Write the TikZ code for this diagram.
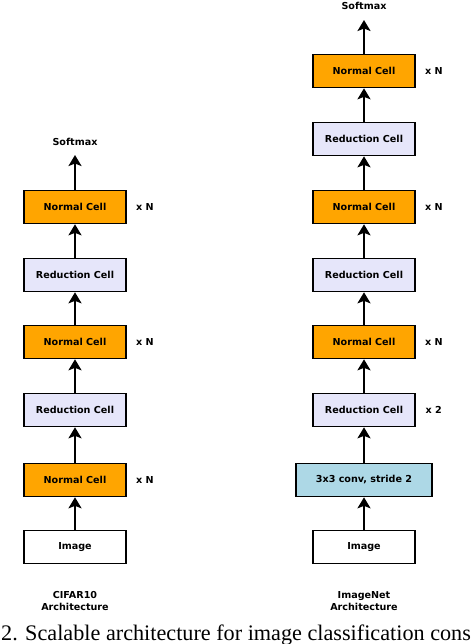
\documentclass[tikz,border=0pt]{standalone}
\usepackage{fontspec}
\setmainfont{Liberation Serif}
\newfontfamily\cellfont{DejaVu Sans}
\usetikzlibrary{arrows.meta}

\definecolor{normalorange}{HTML}{FFA500}
\definecolor{reductionlav}{HTML}{E6E6FA}
\definecolor{convblue}{HTML}{ADD8E6}

\begin{document}
\begin{tikzpicture}[x=1pt,y=-1pt,
  cell/.style={draw,line width=1.6pt,minimum width=102pt,minimum height=33pt,
    inner sep=0pt,font=\cellfont\bfseries\fontsize{9.6}{11}\selectfont},
  normalcell/.style={cell,fill=normalorange},
  reductioncell/.style={cell,fill=reductionlav},
  flow/.style={-{Stealth[length=11pt,width=13pt,inset=2.5pt]},line width=2.4pt},
  tag/.style={font=\cellfont\bfseries\fontsize{9.6}{12}\selectfont}]
\useasboundingbox (0,0) rectangle (474,644);

% CIFAR10 column
\node[cell,fill=white] (cimage) at (75,547) {Image};
\foreach \n/\y/\s/\t in {1/480/normalcell/Normal Cell,2/410/reductioncell/Reduction Cell,
  3/342/normalcell/Normal Cell,4/275/reductioncell/Reduction Cell,5/207/normalcell/Normal Cell}
  \node[\s] (c\n) at (75,\y) {\t};
\coordinate (csoft) at (75,155);
\node[tag] at (75,142) {Softmax};
\draw[flow] (cimage) -- (c1);
\draw[flow] (c1) -- (c2);
\draw[flow] (c2) -- (c3);
\draw[flow] (c3) -- (c4);
\draw[flow] (c4) -- (c5);
\draw[flow] (c5) -- (csoft);
\foreach \n in {1,3,5}
  \node[tag] at ([xshift=18pt]c\n.east) {x N};
\node[tag,align=center] (clabel) at (75,601) {CIFAR10\\Architecture};

% ImageNet column
\node[cell,fill=white] (iimage) at (364,547) {Image};
\node[cell,fill=convblue,minimum width=136pt] (iconv) at (364,480) {3x3 conv, stride 2};
\foreach \n/\y/\s/\t in {1/410/reductioncell/Reduction Cell,2/342/normalcell/Normal Cell,
  3/275/reductioncell/Reduction Cell,4/207/normalcell/Normal Cell,
  5/139/reductioncell/Reduction Cell,6/71/normalcell/Normal Cell}
  \node[\s] (i\n) at (364,\y) {\t};
\coordinate (isoft) at (364,20);
\node[tag] at (364,6) {Softmax};
\draw[flow] (iimage) -- (iconv);
\draw[flow] (iconv) -- (i1);
\draw[flow] (i1) -- (i2);
\draw[flow] (i2) -- (i3);
\draw[flow] (i3) -- (i4);
\draw[flow] (i4) -- (i5);
\draw[flow] (i5) -- (i6);
\draw[flow] (i6) -- (isoft);
\node[tag] at ([xshift=18pt]i1.east) {x 2};
\foreach \n in {2,4,6}
  \node[tag] at ([xshift=18pt]i\n.east) {x N};
\node[tag,align=center] (ilabel) at (364,601) {ImageNet\\Architecture};

% caption
\node[anchor=base west,inner sep=0pt,font=\fontsize{22.2}{24}\selectfont] (caption) at (1,640)
  {2. Scalable architecture for image classification cons};
\end{tikzpicture}
\end{document}
